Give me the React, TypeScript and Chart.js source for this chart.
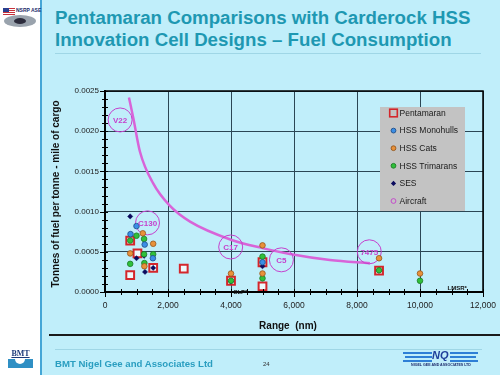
import React, { useEffect, useRef } from 'react';
import { Chart, registerables } from 'chart.js';

Chart.register(...registerables);

const FONT = '"Liberation Sans", Arial, Helvetica, sans-serif';

// ---- data ----
const pentamaranX = [800, 1030, 800, 1530, 2500, 4000, 5000, 5000, 8700];
const pentamaranY = [0.00064, 0.00048, 0.00021, 0.0003, 0.00029, 0.00014, 0.00037, 0.00007, 0.000265];

const monohullX = [1000, 810, 1260, 1520, 5000];
const monohullY = [0.00082, 0.00072, 0.00059, 0.00042, 0.00037];

const catsX = [1200, 1530, 800, 1250, 4000, 5000, 5000, 8700, 10000];
const catsY = [0.00073, 0.0006, 0.00048, 0.00032, 0.00023, 0.00058, 0.00023, 0.00042, 0.00023];

const trimaranX = [1000, 800, 1240, 1240, 1530, 800, 1250, 5000, 5000, 10000, 8700, 4000];
const trimaranY = [0.0007, 0.00064, 0.00066, 0.00047, 0.00047, 0.00035, 0.00036, 0.00044, 0.00017, 0.00014, 0.00027, 0.00014];

const sesX = [800, 1000, 1240, 1270, 1530, 5000, 4000, 8700];
const sesY = [0.00094, 0.00042, 0.00045, 0.00025, 0.0003, 0.00032, 0.00013, 0.000265];

const aircraftNames = ['V22', 'C130', 'C17', 'C5', '7475'];
const aircraftX = [480, 1350, 3990, 5600, 8390];
const aircraftY = [0.00214, 0.00086, 0.00056, 0.0004, 0.0005];

const trendX = [760, 900, 1110, 1530, 2040, 2700, 4020, 5030, 5870, 7140, 8410];
const trendY = [0.00242, 0.00216, 0.001745, 0.00135, 0.00108, 0.000875, 0.000647, 0.000543, 0.000473, 0.000398, 0.000357];

const noteLabels = ['SLP*', 'LMSR*'];
const noteX = [4300, 11180];
const noteY = [-0.00001, 0.00004];

const legendLabels = ['Pentamaran', 'HSS Monohulls', 'HSS Cats', 'HSS Trimarans', 'SES', 'Aircraft'];

const X_MIN = 0;
const X_MAX = 12000;
const X_STEP = 2000;
const X_MINOR = 500;
const Y_MIN = 0;
const Y_MAX = 0.0025;
const Y_STEP = 0.0005;
const Y_MINOR = 0.0001;

const xTitle = 'Range  (nm)';
const yTitle = 'Tonnes of fuel per tonne - mile of cargo';

const COL = {
  pentBorder: '#d4262b',
  pentFill: '#eef9fc',
  blue: '#3a8ee6',
  blueB: '#1d4e8a',
  orange: '#e8913a',
  orangeB: '#94561c',
  green: '#30c03a',
  greenB: '#1a7a24',
  ses: '#0b0b5e',
  air: '#c440cc',
  trend: '#d864d8',
};

const pts = (xs: number[], ys: number[]) => xs.map((x, i) => ({ x, y: ys[i] }));

export default function App() {
  const ref = useRef<HTMLCanvasElement>(null);

  useEffect(() => {
    const canvas = ref.current!;
    const overlay = {
      id: 'overlay',
      afterDatasetsDraw(chart: any) {
        const ctx = chart.ctx as CanvasRenderingContext2D;
        const { left, right, top, bottom } = chart.chartArea;
        const xs = chart.scales.x;
        const ys = chart.scales.y;
        ctx.save();
        // plot outline
        ctx.strokeStyle = '#000';
        ctx.lineWidth = 1.5;
        ctx.strokeRect(left, top, right - left, bottom - top);
        ctx.lineWidth = 2;
        ctx.beginPath();
        ctx.moveTo(left, top);
        ctx.lineTo(left, bottom);
        ctx.lineTo(right, bottom);
        ctx.stroke();
        // minor / major ticks
        ctx.lineWidth = 1;
        ctx.beginPath();
        for (let v = Y_MIN; v <= Y_MAX + 1e-9; v += Y_MINOR) {
          const y = Math.round(ys.getPixelForValue(v)) + 0.5;
          const major = Math.abs(v / Y_STEP - Math.round(v / Y_STEP)) < 1e-6;
          ctx.moveTo(left - (major ? 5 : 3), y);
          ctx.lineTo(left + 3, y);
        }
        for (let v = X_MIN; v <= X_MAX + 1e-9; v += X_MINOR) {
          const x = Math.round(xs.getPixelForValue(v)) + 0.5;
          const major = v % X_STEP === 0;
          ctx.moveTo(x, bottom - 3);
          ctx.lineTo(x, bottom + (major ? 5 : 3));
        }
        ctx.stroke();

        // aircraft labels
        ctx.fillStyle = COL.air;
        ctx.font = `bold 8px ${FONT}`;
        ctx.textAlign = 'center';
        ctx.textBaseline = 'middle';
        aircraftNames.forEach((n, i) => {
          ctx.fillText(n, xs.getPixelForValue(aircraftX[i]), ys.getPixelForValue(aircraftY[i]) + 1);
        });

        // notes
        ctx.fillStyle = '#111';
        ctx.font = `bold 6px ${FONT}`;
        noteLabels.forEach((n, i) => {
          ctx.fillText(n, xs.getPixelForValue(noteX[i]), ys.getPixelForValue(noteY[i]));
        });

        // legend box
        const lx = 380, ly = 107, lw = 85, lh = 104;
        ctx.fillStyle = '#c3c3c3';
        ctx.fillRect(lx, ly, lw, lh);
        ctx.font = `8.5px ${FONT}`;
        ctx.textAlign = 'left';
        ctx.textBaseline = 'middle';
        legendLabels.forEach((lab, i) => {
          const cy = 113 + i * 17.6;
          const mx = 393.5;
          if (i === 0) {
            ctx.strokeStyle = COL.pentBorder;
            ctx.lineWidth = 1.6;
            ctx.strokeRect(mx - 3.8, cy - 3.8, 7.6, 7.6);
          } else if (i === 4) {
            ctx.fillStyle = COL.ses;
            ctx.beginPath();
            ctx.moveTo(mx, cy - 2.6);
            ctx.lineTo(mx + 2.6, cy);
            ctx.lineTo(mx, cy + 2.6);
            ctx.lineTo(mx - 2.6, cy);
            ctx.closePath();
            ctx.fill();
          } else {
            const fills = ['', COL.blue, COL.orange, COL.green, '', 'transparent'];
            const strokes = ['', COL.blueB, COL.orangeB, COL.greenB, '', COL.air];
            ctx.beginPath();
            ctx.arc(mx, cy, 2.4, 0, Math.PI * 2);
            if (fills[i] !== 'transparent') {
              ctx.fillStyle = fills[i];
              ctx.fill();
            }
            ctx.strokeStyle = strokes[i];
            ctx.lineWidth = 0.9;
            ctx.stroke();
          }
          ctx.fillStyle = '#1a1a1a';
          ctx.fillText(lab, 399.5, cy + 0.5);
        });

        // axis titles
        ctx.fillStyle = '#111';
        ctx.font = `bold 10px ${FONT}`;
        ctx.textAlign = 'center';
        ctx.textBaseline = 'middle';
        ctx.fillText(xTitle, 288, 326);
        ctx.translate(56, 194);
        ctx.rotate(-Math.PI / 2);
        ctx.fillText(yTitle, 0, 0);
        ctx.restore();
      },
    };

    const chart = new Chart(canvas, {
      type: 'scatter',
      data: {
        datasets: [
          {
            label: 'Pentamaran',
            data: pts(pentamaranX, pentamaranY),
            pointStyle: 'rect',
            pointRadius: 5.5,
            borderColor: COL.pentBorder,
            backgroundColor: COL.pentFill,
            borderWidth: 2,
            order: 5,
          },
          {
            label: 'HSS Monohulls',
            data: pts(monohullX, monohullY),
            pointStyle: 'circle',
            pointRadius: 2.8,
            backgroundColor: COL.blue,
            borderColor: COL.blueB,
            borderWidth: 0.8,
            order: 1,
          },
          {
            label: 'HSS Cats',
            data: pts(catsX, catsY),
            pointStyle: 'circle',
            pointRadius: 2.8,
            backgroundColor: COL.orange,
            borderColor: COL.orangeB,
            borderWidth: 0.8,
            order: 1,
          },
          {
            label: 'HSS Trimarans',
            data: pts(trimaranX, trimaranY),
            pointStyle: 'circle',
            pointRadius: 2.8,
            backgroundColor: COL.green,
            borderColor: COL.greenB,
            borderWidth: 0.8,
            order: 1,
          },
          {
            label: 'SES',
            data: pts(sesX, sesY),
            pointStyle: 'rectRot',
            pointRadius: 2.6,
            backgroundColor: COL.ses,
            borderColor: COL.ses,
            borderWidth: 0.5,
            order: 1,
          },
          {
            label: 'Aircraft',
            data: pts(aircraftX, aircraftY),
            pointStyle: 'circle',
            pointRadius: 12,
            backgroundColor: 'rgba(0,0,0,0)',
            borderColor: COL.air,
            borderWidth: 1,
            order: 2,
          },
          {
            label: 'Aircraft trend',
            data: pts(trendX, trendY),
            showLine: true,
            pointRadius: 0,
            borderColor: COL.trend,
            borderWidth: 2.5,
            cubicInterpolationMode: 'monotone',
            fill: false,
            order: 6,
          } as any,
        ],
      },
      options: {
        responsive: false,
        animation: false,
        devicePixelRatio: 1,
        layout: { padding: { top: 91, right: 17, bottom: 0, left: 0 }, autoPadding: false } as any,
        plugins: { legend: { display: false }, tooltip: { enabled: false }, title: { display: false } },
        scales: {
          x: {
            type: 'linear',
            min: X_MIN,
            max: X_MAX,
            ticks: {
              stepSize: X_STEP,
              padding: 9,
              maxRotation: 0,
              color: '#222',
              font: { family: FONT, size: 8.5 },
              callback: (v: any) => Number(v).toLocaleString('en-US'),
            },
            grid: { color: '#2b4654', lineWidth: 1, drawTicks: false },
            border: { display: true, color: '#000', width: 2 },
            afterFit: (s: any) => {
              s.height = 83;
              s.paddingLeft = 0;
              s.paddingRight = 0;
            },
          },
          y: {
            type: 'linear',
            min: Y_MIN,
            max: Y_MAX,
            ticks: {
              stepSize: Y_STEP,
              padding: 6,
              color: '#222',
              font: { family: FONT, size: 8 },
              callback: (v: any) => Number(v).toFixed(4),
            },
            grid: { color: '#2b4654', lineWidth: 1, drawTicks: false },
            border: { display: true, color: '#000', width: 2 },
            afterFit: (s: any) => {
              s.width = 105;
              s.paddingTop = 0;
              s.paddingBottom = 0;
            },
          },
        },
      } as any,
      plugins: [overlay],
    });
    return () => chart.destroy();
  }, []);

  const abs = (o: React.CSSProperties): React.CSSProperties => ({ position: 'absolute', ...o });

  return (
    <div
      style={{
        position: 'fixed',
        left: 0,
        top: 0,
        width: 500,
        height: 375,
        overflow: 'hidden',
        background: '#c0eefa',
        fontFamily: FONT,
      }}
    >
      {/* left strip */}
      <div style={abs({ left: 0, top: 0, width: 40, height: 375, background: '#ffffff' })} />
      <div style={abs({ left: 40, top: 0, width: 2, height: 375, background: '#45a6d6' })} />

      {/* top-left logo */}
      <div style={abs({ left: 3, top: 8, width: 12, height: 8, background: 'repeating-linear-gradient(#c8303a 0 1px, #ffffff 1px 2px)' })} />
      <div style={abs({ left: 3, top: 8, width: 6, height: 4, background: '#2a3f8f' })} />
      <div style={abs({ left: 16, top: 7, fontSize: 5, fontWeight: 'bold', color: '#1d2b6b', whiteSpace: 'nowrap' })}>NSRP ASE</div>
      <div style={abs({ left: 4, top: 15, width: 32, height: 12, borderRadius: '50%', background: '#9aa3ad' })} />
      <div style={abs({ left: 14, top: 18, width: 12, height: 6, borderRadius: '50%', background: '#2c2c3c' })} />

      {/* title */}
      <div
        style={abs({
          left: 55,
          top: 7,
          fontSize: 18.7,
          lineHeight: '22px',
          fontWeight: 'bold',
          color: '#1e98b2',
          whiteSpace: 'nowrap',
        })}
      >
        Pentamaran Comparisons with Carderock HSS
        <br />
        Innovation Cell Designs – Fuel Consumption
      </div>
      <div style={abs({ left: 55, top: 53, width: 426, height: 1, background: '#9fd6e6' })} />

      <canvas ref={ref} width={500} height={375} style={abs({ left: 0, top: 0, width: 500, height: 375, display: 'block' })} />

      {/* footer */}
      <div style={abs({ left: 49, top: 334, width: 451, height: 1.5, background: '#1a1a1a' })} />
      <div style={abs({ left: 55, top: 349, width: 427, height: 1, background: '#9fd6e6' })} />
      <div
        style={abs({
          left: 55,
          top: 358,
          fontSize: 9.6,
          lineHeight: '11px',
          fontWeight: 'bold',
          color: '#2a9ec0',
          whiteSpace: 'nowrap',
        })}
      >
        BMT Nigel Gee and Associates Ltd
      </div>
      <div style={abs({ left: 263, top: 361, fontSize: 6, color: '#333' })}>24</div>

      {/* BMT logo */}
      <div style={abs({ left: 8, top: 349, width: 25, fontSize: 8, lineHeight: '9px', fontFamily: '"Liberation Serif", serif', fontWeight: 'bold', color: '#1d3a7a', textAlign: 'center', textDecoration: 'underline' })}>BMT</div>
      <div style={abs({ left: 8, top: 359, width: 25, height: 9, background: '#2f8fc4' })} />
      <div style={abs({ left: 15, top: 358, width: 10, height: 6, borderRadius: '0 0 6px 6px', background: '#ffffff' })} />

      {/* NQ logo */}
      <div style={abs({ left: 403, top: 352, width: 29, height: 2, background: '#2e7fd6' })} />
      <div style={abs({ left: 405, top: 356, width: 27, height: 2, background: '#2e7fd6' })} />
      <div style={abs({ left: 403, top: 360, width: 29, height: 1.5, background: '#2e7fd6' })} />
      <div style={abs({ left: 450, top: 352, width: 28, height: 2, background: '#2e7fd6' })} />
      <div style={abs({ left: 450, top: 356, width: 26, height: 2, background: '#2e7fd6' })} />
      <div style={abs({ left: 450, top: 360, width: 28, height: 1.5, background: '#2e7fd6' })} />
      <div style={abs({ left: 432, top: 349, fontSize: 11, lineHeight: '12px', fontWeight: 'bold', fontStyle: 'italic', color: '#1d3f9a' })}>NQ</div>
      <div style={abs({ left: 403, top: 363, width: 76, fontSize: 3.6, lineHeight: '5px', fontWeight: 'bold', color: '#1d2b6b', whiteSpace: 'nowrap', textAlign: 'center' })}>NIGEL GEE AND ASSOCIATES LTD</div>
    </div>
  );
}
